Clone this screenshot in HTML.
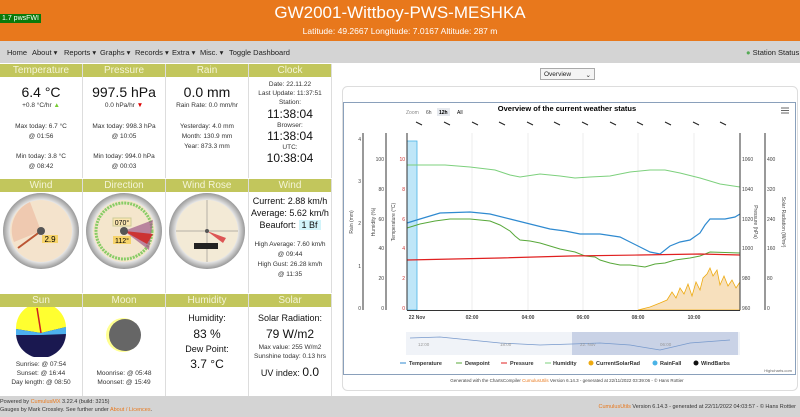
<!DOCTYPE html>
<html><head><meta charset="utf-8">
<style>
*{box-sizing:border-box;margin:0;padding:0}
body{width:800px;height:417px;overflow:hidden;font-family:"Liberation Sans",sans-serif;background:#fff;position:relative;color:#222}
.hdr{position:absolute;left:0;top:0;width:800px;height:41px;background:#e8781c;color:#fff;text-align:center}
.hdr .t{position:absolute;left:0;right:0;top:3px;font-size:17px}
.hdr .s{position:absolute;left:0;right:0;top:26px;font-size:8.5px}
.badge{position:absolute;left:0;top:14px;background:#0a7a0a;color:#fff;font-size:7px;padding:1px 2px}
.nav{position:absolute;left:0;top:41px;width:800px;height:22px;background:#d4d4d4;font-size:7.5px;color:#222}
.nav span{position:absolute;top:7px}
.cell{position:absolute;width:83px;border-right:1px solid #ddd;text-align:center;font-size:6.5px;color:#333}
.cell .h{background:#c2c65c;color:#f4f4d8;font-size:10px;height:13px;line-height:13px}
.big{font-size:14px;color:#111}
.mid{font-size:12px;color:#111}
.ft{position:absolute;left:0;top:396px;width:800px;height:21px;background:#d4d4d4;font-size:5.5px;color:#333}
svg text{font-family:"Liberation Sans",sans-serif}
</style></head><body>
<div class="hdr"><div class="badge">1.7 pwsFWI</div><div class="t">GW2001-Wittboy-PWS-MESHKA</div><div class="s">Latitude: 49.2667 Longitude: 7.0167 Altitude: 287 m</div></div>
<div class="nav"><span style="left:7px">Home</span><span style="left:32px">About ▾</span><span style="left:64px">Reports ▾</span><span style="left:100px">Graphs ▾</span><span style="left:135px">Records ▾</span><span style="left:172px">Extra ▾</span><span style="left:200px">Misc. ▾</span><span style="left:229px">Toggle Dashboard</span><span style="left:746px"><b style="color:#5a5">●</b> Station Status</span></div>

<!-- row1 -->
<div class="cell" style="left:0;top:64px;height:114px"><div class="h">Temperature</div><div class="big" style="margin-top:7px">6.4 °C</div><div style="margin-top:2px">+0.8 °C/hr <span style="color:#7c3">▲</span></div><div style="margin-top:13px;line-height:10px">Max today: 6.7 °C<br>@ 01:56</div><div style="margin-top:10px;line-height:10px">Min today: 3.8 °C<br>@ 08:42</div></div>
<div class="cell" style="left:83px;top:64px;height:114px"><div class="h">Pressure</div><div class="big" style="margin-top:7px">997.5 hPa</div><div style="margin-top:2px">0.0 hPa/hr <span style="color:#d00">▼</span></div><div style="margin-top:13px;line-height:10px">Max today: 998.3 hPa<br>@ 10:05</div><div style="margin-top:10px;line-height:10px">Min today: 994.0 hPa<br>@ 00:03</div></div>
<div class="cell" style="left:166px;top:64px;height:114px"><div class="h">Rain</div><div class="big" style="margin-top:7px">0.0 mm</div><div style="margin-top:2px">Rain Rate: 0.0 mm/hr</div><div style="margin-top:13px;line-height:10px">Yesterday: 4.0 mm<br>Month: 130.9 mm<br>Year: 873.3 mm</div></div>
<div class="cell" style="left:249px;top:64px;height:114px"><div class="h">Clock</div><div style="margin-top:3px;line-height:9px">Date: 22.11.22<br>Last Update: 11:37:51<br>Station:</div><div class="mid">11:38:04</div><div style="margin-top:1px">Browser:</div><div class="mid">11:38:04</div><div style="margin-top:1px">UTC:</div><div class="mid">10:38:04</div></div>

<!-- row2 -->
<div class="cell" style="left:0;top:179px;height:114px"><div class="h">Wind</div>
<svg width="83" height="100"><defs><radialGradient id="g1"><stop offset="0.8" stop-color="#eee"/><stop offset="1" stop-color="#999"/></radialGradient></defs><circle cx="41" cy="39" r="38" fill="url(#g1)"/><circle cx="41" cy="39" r="31" fill="#f4e3cc"/><path d="M41 39 L14 50 A31 31 0 0 1 30 10 Z" fill="#efc9b0"/><rect x="42" y="43" width="16" height="8" fill="#f6d36a"/><text x="50" y="50" font-size="8" text-anchor="middle">2.9</text><line x1="41" y1="39" x2="18" y2="56" stroke="#b53" stroke-width="2"/><circle cx="41" cy="39" r="4" fill="#555"/></svg></div>
<div class="cell" style="left:83px;top:179px;height:114px"><div class="h">Direction</div>
<svg width="83" height="100"><circle cx="41" cy="39" r="38" fill="url(#g1)"/><circle cx="41" cy="39" r="31" fill="#f4e6cc"/><circle cx="41" cy="39" r="28" fill="none" stroke="#8c6" stroke-width="3" stroke-dasharray="2 1"/><path d="M41 39 L70 28 L66 58 Z" fill="#a05a8a" opacity=".7"/><path d="M41 39 L70 42 L64 52 Z" fill="#c33"/><rect x="30" y="26" width="18" height="8" fill="#fbe6b0" stroke="#cc9"/><text x="39" y="33" font-size="7" text-anchor="middle">070°</text><rect x="30" y="44" width="18" height="8" fill="#f6d36a"/><text x="39" y="51" font-size="7" text-anchor="middle">112°</text><circle cx="41" cy="39" r="4" fill="#555"/></svg></div>
<div class="cell" style="left:166px;top:179px;height:114px"><div class="h">Wind Rose</div>
<svg width="83" height="100"><circle cx="41" cy="39" r="38" fill="url(#g1)"/><circle cx="41" cy="39" r="31" fill="#f3ead6"/><line x1="10" y1="39" x2="72" y2="39" stroke="#777" stroke-width=".5"/><line x1="41" y1="8" x2="41" y2="70" stroke="#777" stroke-width=".5"/><path d="M41 39 L60 46 L57 51 Z" fill="#d55"/><rect x="28" y="51" width="24" height="6" fill="#222"/><circle cx="41" cy="39" r="2" fill="#555"/></svg></div>
<div class="cell" style="left:249px;top:179px;height:114px"><div class="h">Wind</div><div style="font-size:9px;line-height:12px;margin-top:3px;color:#111">Current: 2.88 km/h<br>Average: 5.62 km/h<br>Beaufort: <span style="background:#d2f4fa;padding:0 3px">1 Bf</span></div><div style="margin-top:9px;line-height:10px">High Average: 7.60 km/h<br>@ 09:44<br>High Gust: 26.28 km/h<br>@ 11:35</div></div>

<!-- row3 -->
<div class="cell" style="left:0;top:294px;height:102px"><div class="h">Sun</div>
<svg width="83" height="50"><circle cx="41" cy="26" r="25" fill="#1a1850"/><path d="M16 22 A25 25 0 0 1 66 20 L41 26 Z" fill="#ffff30"/><path d="M16 22 L41 26 L66 20 L66 27 L41 28 L16 28 Z" fill="#4db0ee"/><line x1="41" y1="26" x2="37" y2="1" stroke="#c22" stroke-width="1.5"/></svg>
<div style="line-height:9px;margin-top:1px">Sunrise: @ 07:54<br>Sunset: @ 16:44<br>Day length: @ 08:50</div></div>
<div class="cell" style="left:83px;top:294px;height:102px"><div class="h">Moon</div>
<svg width="83" height="50"><circle cx="40" cy="28" r="17" fill="#ffff90"/><circle cx="42" cy="28" r="16" fill="#666"/></svg>
<div style="line-height:9px;margin-top:10px">Moonrise: @ 05:48<br>Moonset: @ 15:49</div></div>
<div class="cell" style="left:166px;top:294px;height:102px"><div class="h">Humidity</div><div style="font-size:9px;margin-top:6px;color:#111">Humidity:</div><div class="mid" style="margin-top:4px">83 %</div><div style="font-size:9px;margin-top:3px;color:#111">Dew Point:</div><div class="mid" style="margin-top:3px">3.7 °C</div></div>
<div class="cell" style="left:249px;top:294px;height:102px"><div class="h">Solar</div><div style="font-size:9px;margin-top:6px;color:#111">Solar Radiation:</div><div class="mid" style="margin-top:4px">79 W/m2</div><div style="line-height:9px;margin-top:2px">Max value: 255 W/m2<br>Sunshine today: 0.13 hrs</div><div style="font-size:9px;margin-top:4px;color:#111">UV index: <span style="font-size:12px">0.0</span></div></div>

<div style="position:absolute;left:540px;top:68px;width:55px;height:12px;border:1px solid #aaa;background:#f4f4f4;font-size:6.5px;padding:2px 3px">Overview <span style="float:right">⌄</span></div>

<svg style="position:absolute;left:0;top:0" width="800" height="417">
<rect x="342.5" y="86.5" width="455" height="304" rx="5" fill="#fff" stroke="#ddd"/>
<rect x="343.5" y="102.5" width="452" height="272" fill="#fff" stroke="#8aa0bb"/>
<text x="567" y="111" font-size="7.5" font-weight="bold" text-anchor="middle">Overview of the current weather status</text>
<text x="406" y="114" font-size="5" fill="#888">Zoom</text><text x="426" y="114" font-size="5" fill="#444">6h</text><rect x="437" y="108" width="13" height="8" fill="#e6e9ee"/><text x="439" y="114" font-size="5" font-weight="bold">12h</text><text x="457" y="114" font-size="5">All</text>
<g stroke="#666"><line x1="781" y1="108" x2="789" y2="108"/><line x1="781" y1="110.5" x2="789" y2="110.5"/><line x1="781" y1="113" x2="789" y2="113"/></g>
<g stroke="#222" stroke-width="1">
<path d="M416 122 l6 3 M444 122 l6 3 M472 122 l6 3 M499 122 l6 3 M527 122 l6 3 M554 122 l6 3 M582 122 l6 3 M610 122 l6 3 M637 122 l6 3 M665 122 l6 3 M693 122 l6 3 M720 122 l6 3"/></g>
<g stroke="#eee"><line x1="472" y1="133" x2="472" y2="310"/><line x1="528" y1="133" x2="528" y2="310"/><line x1="583" y1="133" x2="583" y2="310"/><line x1="638" y1="133" x2="638" y2="310"/><line x1="694" y1="133" x2="694" y2="310"/></g>
<rect x="407" y="141" width="10" height="169" fill="#bfe6f8" stroke="#4ab3e6" stroke-width=".8"/>
<path d="M638 310 L650 307 L660 303 L667 300 L672 292 L676 298 L680 288 L684 294 L688 284 L692 296 L696 282 L700 290 L703 278 L707 274 L710 268 L713 276 L717 270 L720 285 L724 276 L728 286 L732 280 L736 288 L740 282 L740 310 Z" fill="#f7e0bd" stroke="#eeaa10" stroke-width=".8"/>
<path d="M407 165 L445 165 L470 167 L495 170 L510 175 L520 177 L540 174 L560 176 L575 178 L590 177 L610 176 L630 172 L650 170 L665 170 L680 173 L700 178 L720 184 L740 187" fill="none" stroke="#7dd07d" stroke-width="1"/>
<path d="M407 228 L420 224 L435 221 L450 219 L470 219 L490 221 L500 225 L510 231 L515 236 L520 240 L530 241 L540 243 L550 246 L560 249 L575 252 L585 256 L595 257 L600 260 L610 263 L620 265 L630 265 L645 267 L655 264 L665 263 L675 260 L690 258 L700 256 L710 252 L740 253" fill="none" stroke="#58a83a" stroke-width="1"/>
<path d="M407 223 L420 219 L440 213 L470 212 L490 214 L510 219 L530 224 L550 229 L565 231 L580 234 L600 234 L620 237 L630 242 L640 247 L650 252 L660 254 L670 246 L680 242 L690 240 L700 233 L705 225 L710 219 L725 219 L735 217 L740 214" fill="none" stroke="#2f8ad0" stroke-width="1.2"/>
<path d="M407 260 L500 258 L570 256 L640 255 L700 254 L740 255" fill="none" stroke="#e02020" stroke-width="1.2"/>
<g stroke="#333" stroke-width="1"><line x1="407" y1="133" x2="407" y2="310"/><line x1="407" y1="310.5" x2="740" y2="310.5"/><line x1="740" y1="133" x2="740" y2="310"/><line x1="386" y1="133" x2="386" y2="310"/><line x1="363" y1="133" x2="363" y2="310"/><line x1="765" y1="133" x2="765" y2="310"/></g>
<g font-size="5" fill="#444" text-anchor="end"><text x="361" y="141">4</text><text x="361" y="183">3</text><text x="361" y="225">2</text><text x="361" y="268">1</text><text x="361" y="310">0</text>
<text x="384" y="161">100</text><text x="384" y="191">80</text><text x="384" y="221">60</text><text x="384" y="250">40</text><text x="384" y="280">20</text><text x="384" y="310">0</text>
<g fill="#c33"><text x="405" y="161">10</text><text x="405" y="191">8</text><text x="405" y="221">6</text><text x="405" y="250">4</text><text x="405" y="280">2</text><text x="405" y="310">0</text></g></g>
<g font-size="5" fill="#444"><text x="742" y="161">1060</text><text x="742" y="191">1040</text><text x="742" y="221">1020</text><text x="742" y="250">1000</text><text x="742" y="280">980</text><text x="742" y="310">960</text>
<text x="767" y="161">400</text><text x="767" y="191">320</text><text x="767" y="221">240</text><text x="767" y="250">160</text><text x="767" y="280">80</text><text x="767" y="310">0</text></g>
<g font-size="5" fill="#444" text-anchor="middle" transform="rotate(-90)"><text x="-222" y="353">Rain (mm)</text><text x="-222" y="375">Humidity (%)</text><text x="-222" y="395">Temperature (°C)</text></g>
<g font-size="5" fill="#444" text-anchor="middle" transform="rotate(90)"><text x="222" y="-754">Pressure (hPa)</text><text x="222" y="-782">Solar Radiation (W/m²)</text></g>
<g font-size="5" font-weight="bold" fill="#444" text-anchor="middle"><text x="417" y="319">22 Nov</text><text x="472" y="319">02:00</text><text x="528" y="319">04:00</text><text x="583" y="319">06:00</text><text x="638" y="319">08:00</text><text x="694" y="319">10:00</text></g>
<rect x="406" y="332" width="334" height="23" fill="#f0f3f8"/>
<rect x="572" y="332" width="166" height="23" fill="#c9d2e6"/>
<path d="M410 338 L440 337 L470 340 L500 343 L540 345 L572 344 L600 343 L630 345 L660 350 L690 343 L730 340" fill="none" stroke="#7799cc" stroke-width=".7"/>
<g font-size="4.5" fill="#999"><text x="418" y="346">12:00</text><text x="500" y="346">18:00</text><text x="580" y="346">22. Nov</text><text x="660" y="346">06:00</text></g>
<g font-size="5.5" font-weight="bold" fill="#333"><line x1="400" y1="363" x2="406" y2="363" stroke="#2f8ad0"/><text x="409" y="365">Temperature</text><line x1="456" y1="363" x2="462" y2="363" stroke="#58a83a"/><text x="465" y="365">Dewpoint</text><line x1="501" y1="363" x2="507" y2="363" stroke="#e02020"/><text x="510" y="365">Pressure</text><line x1="545" y1="363" x2="551" y2="363" stroke="#7dd07d"/><text x="553" y="365">Humidity</text><circle cx="591" cy="363" r="2.5" fill="#eeaa10"/><text x="596" y="365">CurrentSolarRad</text><circle cx="655" cy="363" r="2.5" fill="#4ab3e6"/><text x="660" y="365">RainFall</text><circle cx="696" cy="363" r="2.5" fill="#111"/><text x="701" y="365">WindBarbs</text></g>
<text x="792" y="372" font-size="4" fill="#666" text-anchor="end">Highcharts.com</text>
<text x="567" y="382" font-size="4.5" fill="#444" text-anchor="middle">Generated with the ChartsCompiler <tspan fill="#e8781c">CumulusUtils</tspan> Version 6.14.3 - generated at 22/11/2022 03:39:06 - © Hans Rottier</text>
</svg>

<div class="ft"><div style="position:absolute;left:0;top:3px">Powered by <span style="color:#e8781c">CumulusMX</span> 3.22.4 (build: 3215)</div><div style="position:absolute;left:0;top:11px">Gauges by Mark Crossley. See further under <span style="color:#e8781c">About / Licences</span>.</div><div style="position:absolute;right:4px;top:8px"><span style="color:#e8781c">CumulusUtils</span> Version 6.14.3 - generated at 22/11/2022 04:03:57 - © Hans Rottier</div></div>
</body></html>
